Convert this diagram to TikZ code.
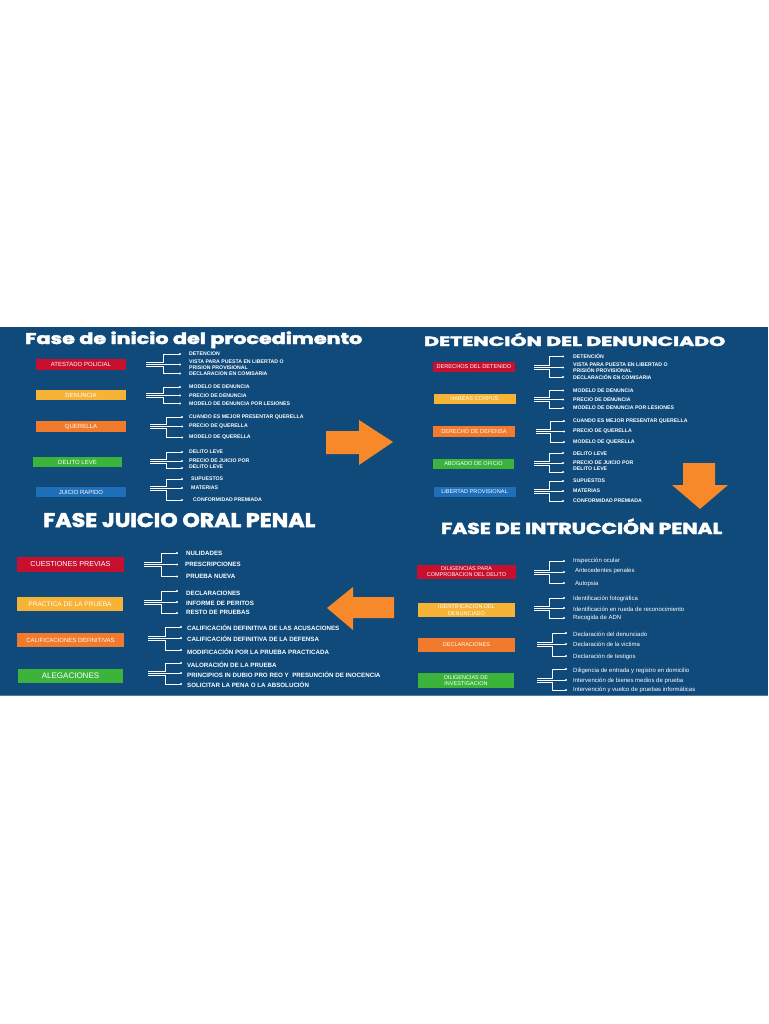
\documentclass[tikz,border=0pt]{standalone}
\usepackage{fontspec}
\setmainfont{Liberation Sans}
\newfontfamily\tfont{Poppins}[BoldFeatures={FakeBold=2.5}]
\usepackage{graphicx}
\definecolor{bg}{HTML}{0F4A7A}
\definecolor{bgline}{HTML}{4A7BA6}
\definecolor{cred}{HTML}{C8102E}
\definecolor{cyel}{HTML}{F6B335}
\definecolor{corg}{HTML}{F27A2C}
\definecolor{cgrn}{HTML}{3CB43C}
\definecolor{cblu}{HTML}{1E6FB8}
\definecolor{carr}{HTML}{F7892B}
\tikzset{
  conn/.style={draw=white, line width=0.7pt},
  dot/.style={circle, fill=white, inner sep=0pt, minimum size=2.4pt},
  box/.style={inner sep=0pt, text=white, align=center},
  itema/.style={anchor=west, inner sep=0pt, text=white, align=left, font=\bfseries\fontsize{5.2}{6.2}\selectfont},
  itemb/.style={anchor=west, inner sep=0pt, text=white, align=left, font=\bfseries\fontsize{6.2}{7.2}\selectfont},
  itemc/.style={anchor=west, inner sep=0pt, text=white, align=left, font=\fontsize{6}{7}\selectfont},
  title/.style={anchor=base west, inner sep=0pt, text=white},
  bigarrow/.style={fill=carr, draw=none}
}
% #1 name, #2 left x, #3 bend x, #4 dot x, #5 top y, #6 middle y, #7 bottom y
\newcommand\brk[7]{%
  \coordinate (#1s) at (#2,#6);
  \node[dot] (#1a) at (#4,#5) {};
  \node[dot] (#1b) at (#4,#6) {};
  \node[dot] (#1c) at (#4,#7) {};
  \draw[conn] ([yshift=2pt]#1s) -| (#3,#5) -- (#1a.center);
  \draw[conn] (#1s) -- (#1b.center);
  \draw[conn] ([yshift=-2pt]#1s) -| (#3,#7) -- (#1c.center);
}
\begin{document}
\begin{tikzpicture}[x=1pt,y=-1pt]
\useasboundingbox (0,0) rectangle (768,1024);
\fill[white] (0,0) rectangle (768,1024);
\fill[bg] (0,327) rectangle (768,696);
\draw[bgline, line width=1pt] (0,695.5) -- (768,695.5);

% ---------- Titles ----------
\node[title] (t1) at (25,344) {\resizebox{337pt}{12.5pt}{\tfont\bfseries Fase de inicio del procedimento}};
\node[title] (t2) at (424,346) {\resizebox{301pt}{13pt}{\tfont\bfseries DETENCIÓN DEL DENUNCIADO}};
\node[title] (t3) at (43,527) {\resizebox{272pt}{14pt}{\tfont\bfseries FASE JUICIO ORAL PENAL}};
\node[title] (t4) at (441,534) {\resizebox{281pt}{15.5pt}{\tfont\bfseries FASE DE INTRUCCIÓN PENAL}};

% ---------- Arrows ----------
\fill[bigarrow] (326,431) -- (359,431) -- (359,420) -- (393,442) -- (359,465) -- (359,454) -- (326,454) -- cycle;
\fill[bigarrow] (683,463) -- (715,463) -- (715,485) -- (728,485) -- (700,509) -- (672,485) -- (683,485) -- cycle;
\fill[bigarrow] (394,597) -- (353,597) -- (353,587) -- (327,608) -- (353,630) -- (353,618) -- (394,618) -- cycle;

% ---------- Panel 1 ----------
\node[box, fill=cred, minimum width=90pt, minimum height=11pt, font=\fontsize{6}{7}\selectfont] (p1b1) at (81,364.5) {ATESTADO POLICIAL};
\node[box, fill=cyel, minimum width=90pt, minimum height=10pt, font=\fontsize{6}{7}\selectfont] (p1b2) at (81,395) {DENUNCIA};
\node[box, fill=corg, minimum width=90pt, minimum height=11pt, font=\fontsize{6}{7}\selectfont] (p1b3) at (81,426.5) {QUERELLA};
\node[box, fill=cgrn, minimum width=89pt, minimum height=10pt, font=\fontsize{6}{7}\selectfont] (p1b4) at (77.5,462) {DELITO LEVE};
\node[box, fill=cblu, minimum width=90pt, minimum height=10pt, font=\fontsize{6}{7}\selectfont] (p1b5) at (81,492) {JUICIO RAPIDO};
\brk{q11}{146}{163}{180}{354}{364.5}{373.5}
\brk{q12}{146}{163}{180}{387}{395.5}{403.5}
\brk{q13}{150}{166}{182}{417}{426.5}{437.5}
\brk{q14}{150}{166}{182}{452}{461}{468}
\brk{q15}{150}{166}{182}{479}{488}{500}
\node[itema] (p1i1) at (189,354) {DETENCION};
\node[itema] (p1i2) at (189,365) {VISTA PARA PUESTA EN LIBERTAD O\\PRISION PROVISIONAL};
\node[itema] (p1i3) at (189,373.5) {DECLARACION EN COMISARIA};
\node[itema] (p1i4) at (189,387) {MODELO DE DENUNCIA};
\node[itema] (p1i5) at (189,395.5) {PRECIO DE DENUNCIA};
\node[itema] (p1i6) at (189,403.5) {MODELO DE DENUNCIA POR LESIONES};
\node[itema] (p1i7) at (189,417) {CUANDO ES MEJOR PRESENTAR QUERELLA};
\node[itema] (p1i8) at (189,426.5) {PRECIO DE QUERELLA};
\node[itema] (p1i9) at (189,437.5) {MODELO DE QUERELLA};
\node[itema] (p1i10) at (189,452) {DELITO LEVE};
\node[itema] (p1i11) at (189,464) {PRECIO DE JUICIO POR\\DELITO LEVE};
\node[itema] (p1i12) at (191,479) {SUPUESTOS};
\node[itema] (p1i13) at (191,488) {MATERIAS};
\node[itema] (p1i14) at (193,500) {CONFORMIDAD PREMIADA};

% ---------- Panel 2 ----------
\node[box, fill=cred, minimum width=82pt, minimum height=10pt, font=\fontsize{5.6}{6.6}\selectfont] (p2b1) at (474,367) {DERECHOS DEL DETENIDO};
\node[box, fill=cyel, minimum width=82pt, minimum height=10pt, font=\fontsize{5.6}{6.6}\selectfont] (p2b2) at (474.5,399) {HABEAS CORPUS};
\node[box, fill=corg, minimum width=82pt, minimum height=11pt, font=\fontsize{5.6}{6.6}\selectfont] (p2b3) at (474,431.5) {DERECHO DE DEFENSA};
\node[box, fill=cgrn, minimum width=81pt, minimum height=10pt, font=\fontsize{5.6}{6.6}\selectfont] (p2b4) at (473.5,464) {ABOGADO DE OFICIO};
\node[box, fill=cblu, minimum width=82pt, minimum height=10pt, font=\fontsize{5.6}{6.6}\selectfont] (p2b5) at (474.5,492) {LIBERTAD PROVISIONAL};
\brk{q21}{534}{549}{563}{356.5}{367.5}{377}
\brk{q22}{534}{549}{563}{390.5}{399.5}{408}
\brk{q23}{536}{550}{564}{421}{431.5}{442}
\brk{q24}{534}{549}{563}{453}{463}{472}
\brk{q25}{534}{549}{563}{481}{491}{501}
\node[itema] (p2i1) at (573,356.5) {DETENCIÓN};
\node[itema] (p2i2) at (573,367.5) {VISTA PARA PUESTA EN LIBERTAD O\\PRISIÓN PROVISIONAL};
\node[itema] (p2i3) at (573,377) {DECLARACIÓN EN COMISARIA};
\node[itema] (p2i4) at (573,390.5) {MODELO DE DENUNCIA};
\node[itema] (p2i5) at (573,399.5) {PRECIO DE DENUNCIA};
\node[itema] (p2i6) at (573,408) {MODELO DE DENUNCIA POR LESIONES};
\node[itema] (p2i7) at (573,421) {CUANDO ES MEJOR PRESENTAR QUERELLA};
\node[itema] (p2i8) at (573,431.5) {PRECIO DE QUERELLA};
\node[itema] (p2i9) at (573,442) {MODELO DE QUERELLA};
\node[itema] (p2i10) at (573,454) {DELITO LEVE};
\node[itema] (p2i11) at (573,466) {PRECIO DE JUICIO POR\\DELITO LEVE};
\node[itema] (p2i12) at (573,481) {SUPUESTOS};
\node[itema] (p2i13) at (573,491) {MATERIAS};
\node[itema] (p2i14) at (573,501) {CONFORMIDAD PREMIADA};

% ---------- Panel 3 ----------
\node[box, fill=cred, minimum width=107pt, minimum height=15pt, font=\fontsize{7.2}{8}\selectfont] (p3b1) at (70.5,564.5) {CUESTIONES PREVIAS};
\node[box, fill=cyel, minimum width=106pt, minimum height=14pt, font=\fontsize{6.6}{7.6}\selectfont] (p3b2) at (70,604) {PRACTICA DE LA PRUEBA};
\node[box, fill=corg, minimum width=107pt, minimum height=14pt, font=\fontsize{6}{7}\selectfont] (p3b3) at (70.5,640) {CALIFICACIONES DEFINITIVAS};
\node[box, fill=cgrn, minimum width=105pt, minimum height=14pt, font=\fontsize{8}{9}\selectfont] (p3b4) at (70.5,676) {ALEGACIONES};
\brk{q31}{144}{161}{177}{553}{564.5}{576.5}
\brk{q32}{144}{161}{177}{591}{602}{613}
\brk{q33}{148}{165}{181}{627}{638}{650}
\brk{q34}{148}{165}{181}{663}{673}{684}
\node[itemb] (p3i1) at (186,553) {NULIDADES};
\node[itemb] (p3i2) at (185,564) {PRESCRIPCIONES};
\node[itemb] (p3i3) at (186,576) {PRUEBA NUEVA};
\node[itemb] (p3i4) at (186,593) {DECLARACIONES};
\node[itemb] (p3i5) at (186,603) {INFORME DE PERITOS};
\node[itemb] (p3i6) at (186,612) {RESTO DE PRUEBAS};
\node[itemb] (p3i7) at (187,628) {CALIFICACIÓN DEFINITIVA DE LAS ACUSACIONES};
\node[itemb] (p3i8) at (187,639) {CALIFICACIÓN DEFINITIVA DE LA DEFENSA};
\node[itemb] (p3i9) at (187,652) {MODIFICACIÓN POR LA PRUEBA PRACTICADA};
\node[itemb] (p3i10) at (187,665) {VALORACIÓN DE LA PRUEBA};
\node[itemb] (p3i11) at (187,675) {PRINCIPIOS IN DUBIO PRO REO Y\ \ PRESUNCIÓN DE INOCENCIA};
\node[itemb] (p3i12) at (187,685) {SOLICITAR LA PENA O LA ABSOLUCIÓN};

% ---------- Panel 4 ----------
\node[box, fill=cred, minimum width=99pt, minimum height=14pt, font=\fontsize{5.5}{6.2}\selectfont] (p4b1) at (466.5,572) {DILIGENCIAS PARA\\COMPROBACION DEL DELITO};
\node[box, fill=cyel, minimum width=97pt, minimum height=14pt, font=\fontsize{5.5}{6.2}\selectfont] (p4b2) at (466.5,610) {IDENTIFICACION DEL\\DENUNCIADO};
\node[box, fill=corg, minimum width=97pt, minimum height=14pt, font=\fontsize{5.5}{6.2}\selectfont] (p4b3) at (466.5,645) {DECLARACIONES};
\node[box, fill=cgrn, minimum width=96pt, minimum height=15pt, font=\fontsize{5.5}{6.2}\selectfont] (p4b4) at (466,680.5) {DILIGENCIAS DE\\INVESTIGACION};
\brk{q41}{534}{549}{564}{561}{572}{583}
\brk{q42}{534}{549}{564}{598}{608}{618}
\brk{q43}{537}{552}{566}{633}{644}{656}
\brk{q44}{537}{552}{566}{669}{680}{690}
\node[itemc] (p4i1) at (573,561) {Inspección ocular};
\node[itemc] (p4i2) at (575,571) {Antecedentes penales};
\node[itemc] (p4i3) at (575,584) {Autopsia};
\node[itemc] (p4i4) at (573,599) {Identificación fotográfica};
\node[itemc] (p4i5) at (573,609) {Identificación en rueda de reconocimiento};
\node[itemc] (p4i6) at (573,618) {Recogida de ADN};
\node[itemc] (p4i7) at (573,634) {Declaración del denunciado};
\node[itemc] (p4i8) at (573,644.5) {Declaración de la victima};
\node[itemc] (p4i9) at (573,657) {Declaración de testigos};
\node[itemc] (p4i10) at (573,671) {Diligencia de entrada y registro en domicilio};
\node[itemc] (p4i11) at (573,681) {Intervención de bienes medios de prueba};
\node[itemc] (p4i12) at (573,689.5) {Intervención y vuelco de pruebas informáticas};
\end{tikzpicture}
\end{document}
